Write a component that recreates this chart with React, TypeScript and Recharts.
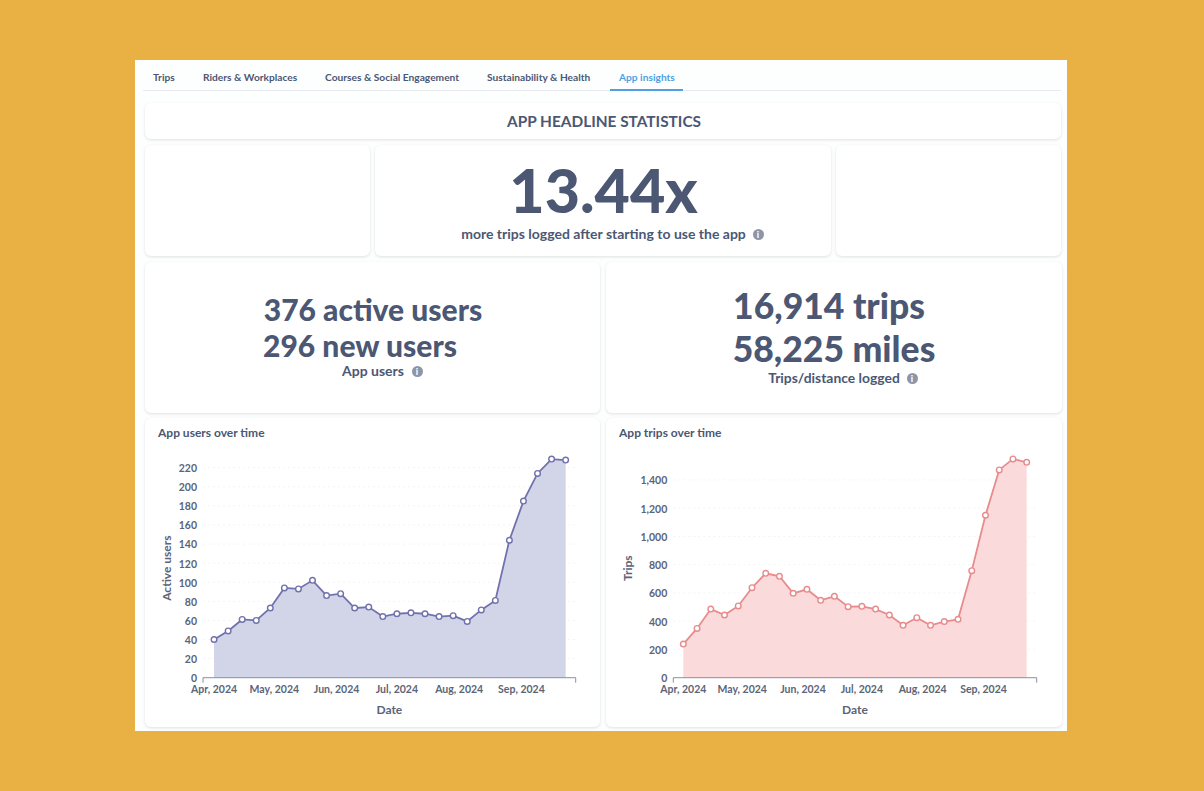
import React from "react";
import { AreaChart, Area, XAxis, YAxis, CartesianGrid, Label } from "recharts";

const tabs = ["Trips", "Riders & Workplaces", "Courses & Social Engagement", "Sustainability & Health", "App insights"];
const tabX = [153, 203, 325, 487, 619];
const dayOffsets = [0, 7, 14, 21, 28, 35, 42, 49, 56, 63, 70, 77, 84, 91, 98, 105, 112, 119, 126, 133, 140, 147, 154, 161, 168, 175];
const usersValues = [40, 49, 61, 60, 73, 94, 93, 102, 86, 88, 73, 74, 64, 67, 68, 67, 64, 65, 59, 71, 81, 144, 185, 214, 229, 228];
const tripsValues = [238, 349, 486, 444, 508, 637, 739, 718, 597, 626, 548, 576, 503, 505, 486, 444, 371, 425, 371, 397, 413, 758, 1150, 1471, 1549, 1525];
const monthTicks = [0, 30, 61, 91, 122, 153];
const monthLabels = ["Apr, 2024", "May, 2024", "Jun, 2024", "Jul, 2024", "Aug, 2024", "Sep, 2024"];
const usersTicks = [0, 20, 40, 60, 80, 100, 120, 140, 160, 180, 200, 220];
const tripsTicks = [0, 200, 400, 600, 800, 1000, 1200, 1400];

const usersData = dayOffsets.map((d, i) => ({ d, v: usersValues[i] }));
const tripsData = dayOffsets.map((d, i) => ({ d, v: tripsValues[i] }));

const TEXT = "#4c5773";
const FONT = "Lato, sans-serif";

function Card({ x, y, w, h, children }: any) {
  return (
    <div style={{ position: "absolute", left: x, top: y, width: w, height: h, background: "#fff", borderRadius: 6, boxShadow: "0 1px 3px rgba(60,70,90,0.16)" }}>
      {children}
    </div>
  );
}

function T({ x, y, size, weight = 700, color = TEXT, center, children }: any) {
  return (
    <div style={{ position: "absolute", left: x, top: y, transform: center ? "translate(-50%,-50%)" : "translateY(-50%)", fontSize: size, fontWeight: weight, color, whiteSpace: "nowrap", lineHeight: 1, fontFamily: FONT }}>
      {children}
    </div>
  );
}

function Info({ x, y }: any) {
  return (
    <div style={{ position: "absolute", left: x - 5.5, top: y - 5.5, width: 11, height: 11, borderRadius: "50%", background: "#8d95a8", color: "#fff", fontSize: 9, fontWeight: 900, lineHeight: "11px", textAlign: "center", fontFamily: FONT }}>i</div>
  );
}

function Tick({ x, y, payload }: any) {
  const idx = monthTicks.indexOf(payload.value);
  if (idx < 0) {
    return <line x1={x} x2={x} y1={y - 8} y2={y - 3} stroke="#8a90a0" strokeWidth={1} />;
  }
  return (
    <text x={x} y={y + 7.5} textAnchor="middle" fontSize={10.5} fontWeight={700} fill="#5b6478" fontFamily={FONT}>
      {monthLabels[idx]}
    </text>
  );
}

function Chart({ data, yTicks, yMax, top, domain, color, fill, yLabel, yWidth, labelDy, fmt }: any) {
  return (
    <AreaChart width={456} height={305} data={data} margin={{ top, right: 25.3, bottom: 0, left: 0 }}>
      <CartesianGrid horizontal vertical={false} syncWithTicks stroke="#f3f4f7" strokeDasharray="2 3" />
      <XAxis
        dataKey="d"
        type="number"
        domain={domain}
        ticks={[domain[0], ...monthTicks, domain[1]]}
        interval={0}
        height={47.3}
        tick={<Tick />}
        tickLine={false}
        axisLine={{ stroke: "#8a90a0", strokeWidth: 1 }}
      >
        <Label value="Date" position="insideBottom" offset={11} fontSize={12} fontWeight={700} fill="#5b6478" fontFamily={FONT} />
      </XAxis>
      <YAxis
        type="number"
        domain={[0, yMax]}
        ticks={yTicks}
        interval={0}
        width={yWidth}
        axisLine={false}
        tickLine={false}
        tickMargin={0}
        tickSize={6}
        tickFormatter={fmt}
        tick={{ fontSize: 10.5, fontWeight: 700, fill: "#5b6478", fontFamily: FONT, dy: 0.7 }}
      >
        <Label value={yLabel} angle={-90} position="insideLeft" offset={22} dy={labelDy} fontSize={12} fontWeight={700} fill="#5b6478" fontFamily={FONT} style={{ textAnchor: "middle" }} />
      </YAxis>
      <Area
        type="linear"
        dataKey="v"
        stroke={color}
        strokeWidth={1.8}
        fill={fill}
        fillOpacity={1}
        isAnimationActive={false}
        dot={{ r: 2.8, fill: "#fff", stroke: color, strokeWidth: 1.4, fillOpacity: 1 }}
      />
    </AreaChart>
  );
}

export default function App() {
  return (
    <div style={{ position: "fixed", left: 0, top: 0, width: 1204, height: 791, background: "#e9b043", overflow: "hidden", fontFamily: FONT }}>
      <div style={{ position: "absolute", left: 135, top: 60, width: 932, height: 671, background: "#fdfefe" }} />
      <div style={{ position: "absolute", left: 143, top: 90, width: 918, height: 1, background: "#e8ebef" }} />
      {tabs.map((t, i) => (
        <T key={t} x={tabX[i]} y={76.5} size={10.2} color={i === 4 ? "#509ee3" : TEXT}>{t}</T>
      ))}
      <div style={{ position: "absolute", left: 610, top: 88.5, width: 73, height: 2, background: "#509ee3" }} />

      <Card x={145} y={103} w={916} h={36} />
      <T x={604} y={121.5} size={15.4} center>APP HEADLINE STATISTICS</T>

      <Card x={145} y={145} w={225} h={111} />
      <Card x={375} y={145} w={456} h={111} />
      <Card x={836} y={145} w={225} h={111} />
      <T x={603.5} y={189} size={61} weight={900} center>13.44x</T>
      <T x={603.5} y={234} size={14} center>more trips logged after starting to use the app</T>
      <Info x={758} y={234} />

      <Card x={145} y={262} w={455} h={151} />
      <Card x={606} y={262} w={456} h={151} />
      <T x={373} y={308.5} size={30} weight={900} center>376 active users</T>
      <T x={360} y={344.5} size={30} weight={900} center>296 new users</T>
      <T x={373} y={371} size={14} center>App users</T>
      <Info x={417} y={371} />
      <T x={829} y={306} size={35.5} weight={900} center>16,914 trips</T>
      <T x={834} y={349} size={35.5} weight={900} center>58,225 miles</T>
      <T x={834} y={378} size={13.9} center>Trips/distance logged</T>
      <Info x={912} y={378} />

      <Card x={145} y={418} w={455} h={309} />
      <Card x={606} y={418} w={456} h={309} />
      <T x={158} y={432.5} size={12}>App users over time</T>
      <T x={619} y={432.5} size={12}>App trips over time</T>

      <div style={{ position: "absolute", left: 145, top: 420 }}>
        <Chart data={usersData} yTicks={usersTicks} yMax={240} top={28.6} domain={[-5.5, 180]} color="#7172ad" fill="#d2d4e8" yLabel="Active users" yWidth={58} labelDy={5} />
      </div>
      <div style={{ position: "absolute", left: 606, top: 420 }}>
        <Chart data={tripsData} yTicks={tripsTicks} yMax={1600} top={31.7} domain={[-5.1, 180.1]} color="#e88b8c" fill="#fbdadb" yLabel="Trips" yWidth={67.3} labelDy={3.5} fmt={(v: number) => v.toLocaleString("en-US")} />
      </div>
    </div>
  );
}
